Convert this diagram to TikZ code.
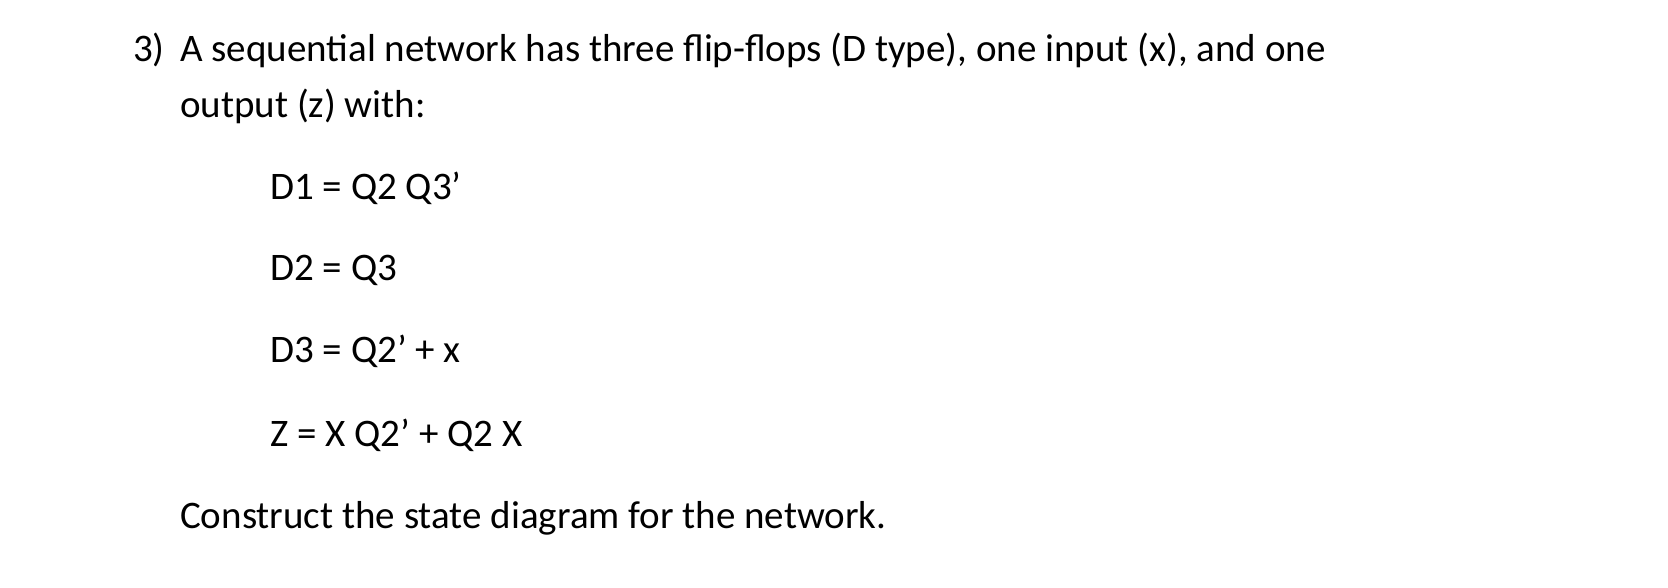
\documentclass[tikz,border=0pt]{standalone}
\usepackage{fontspec}
\setmainfont{Carlito}
\begin{document}
\begin{tikzpicture}[x=1pt,y=1pt,txt/.style={anchor=base west,inner sep=0pt,font=\fontsize{39}{44}\selectfont}]
\useasboundingbox (0,0) rectangle (1668,587);
\node[txt] (n) at (133,525) {3)};
\node[txt] (l1) at (180,525) {A sequential network has three flip-flops (D type), one input (x), and one};
\node[txt] (l2) at (180,469) {output (z) with:};
\node[txt] (d1) at (270,387) {D1 = Q2 Q3’};
\node[txt] (d2) at (270,306) {D2 = Q3};
\node[txt] (d3) at (270,224) {D3 = Q2’ + x};
\node[txt] (z) at (270,141) {Z = X Q2’ + Q2 X};
\node[txt] (c) at (180,59) {Construct the state diagram for the network.};
\end{tikzpicture}
\end{document}
